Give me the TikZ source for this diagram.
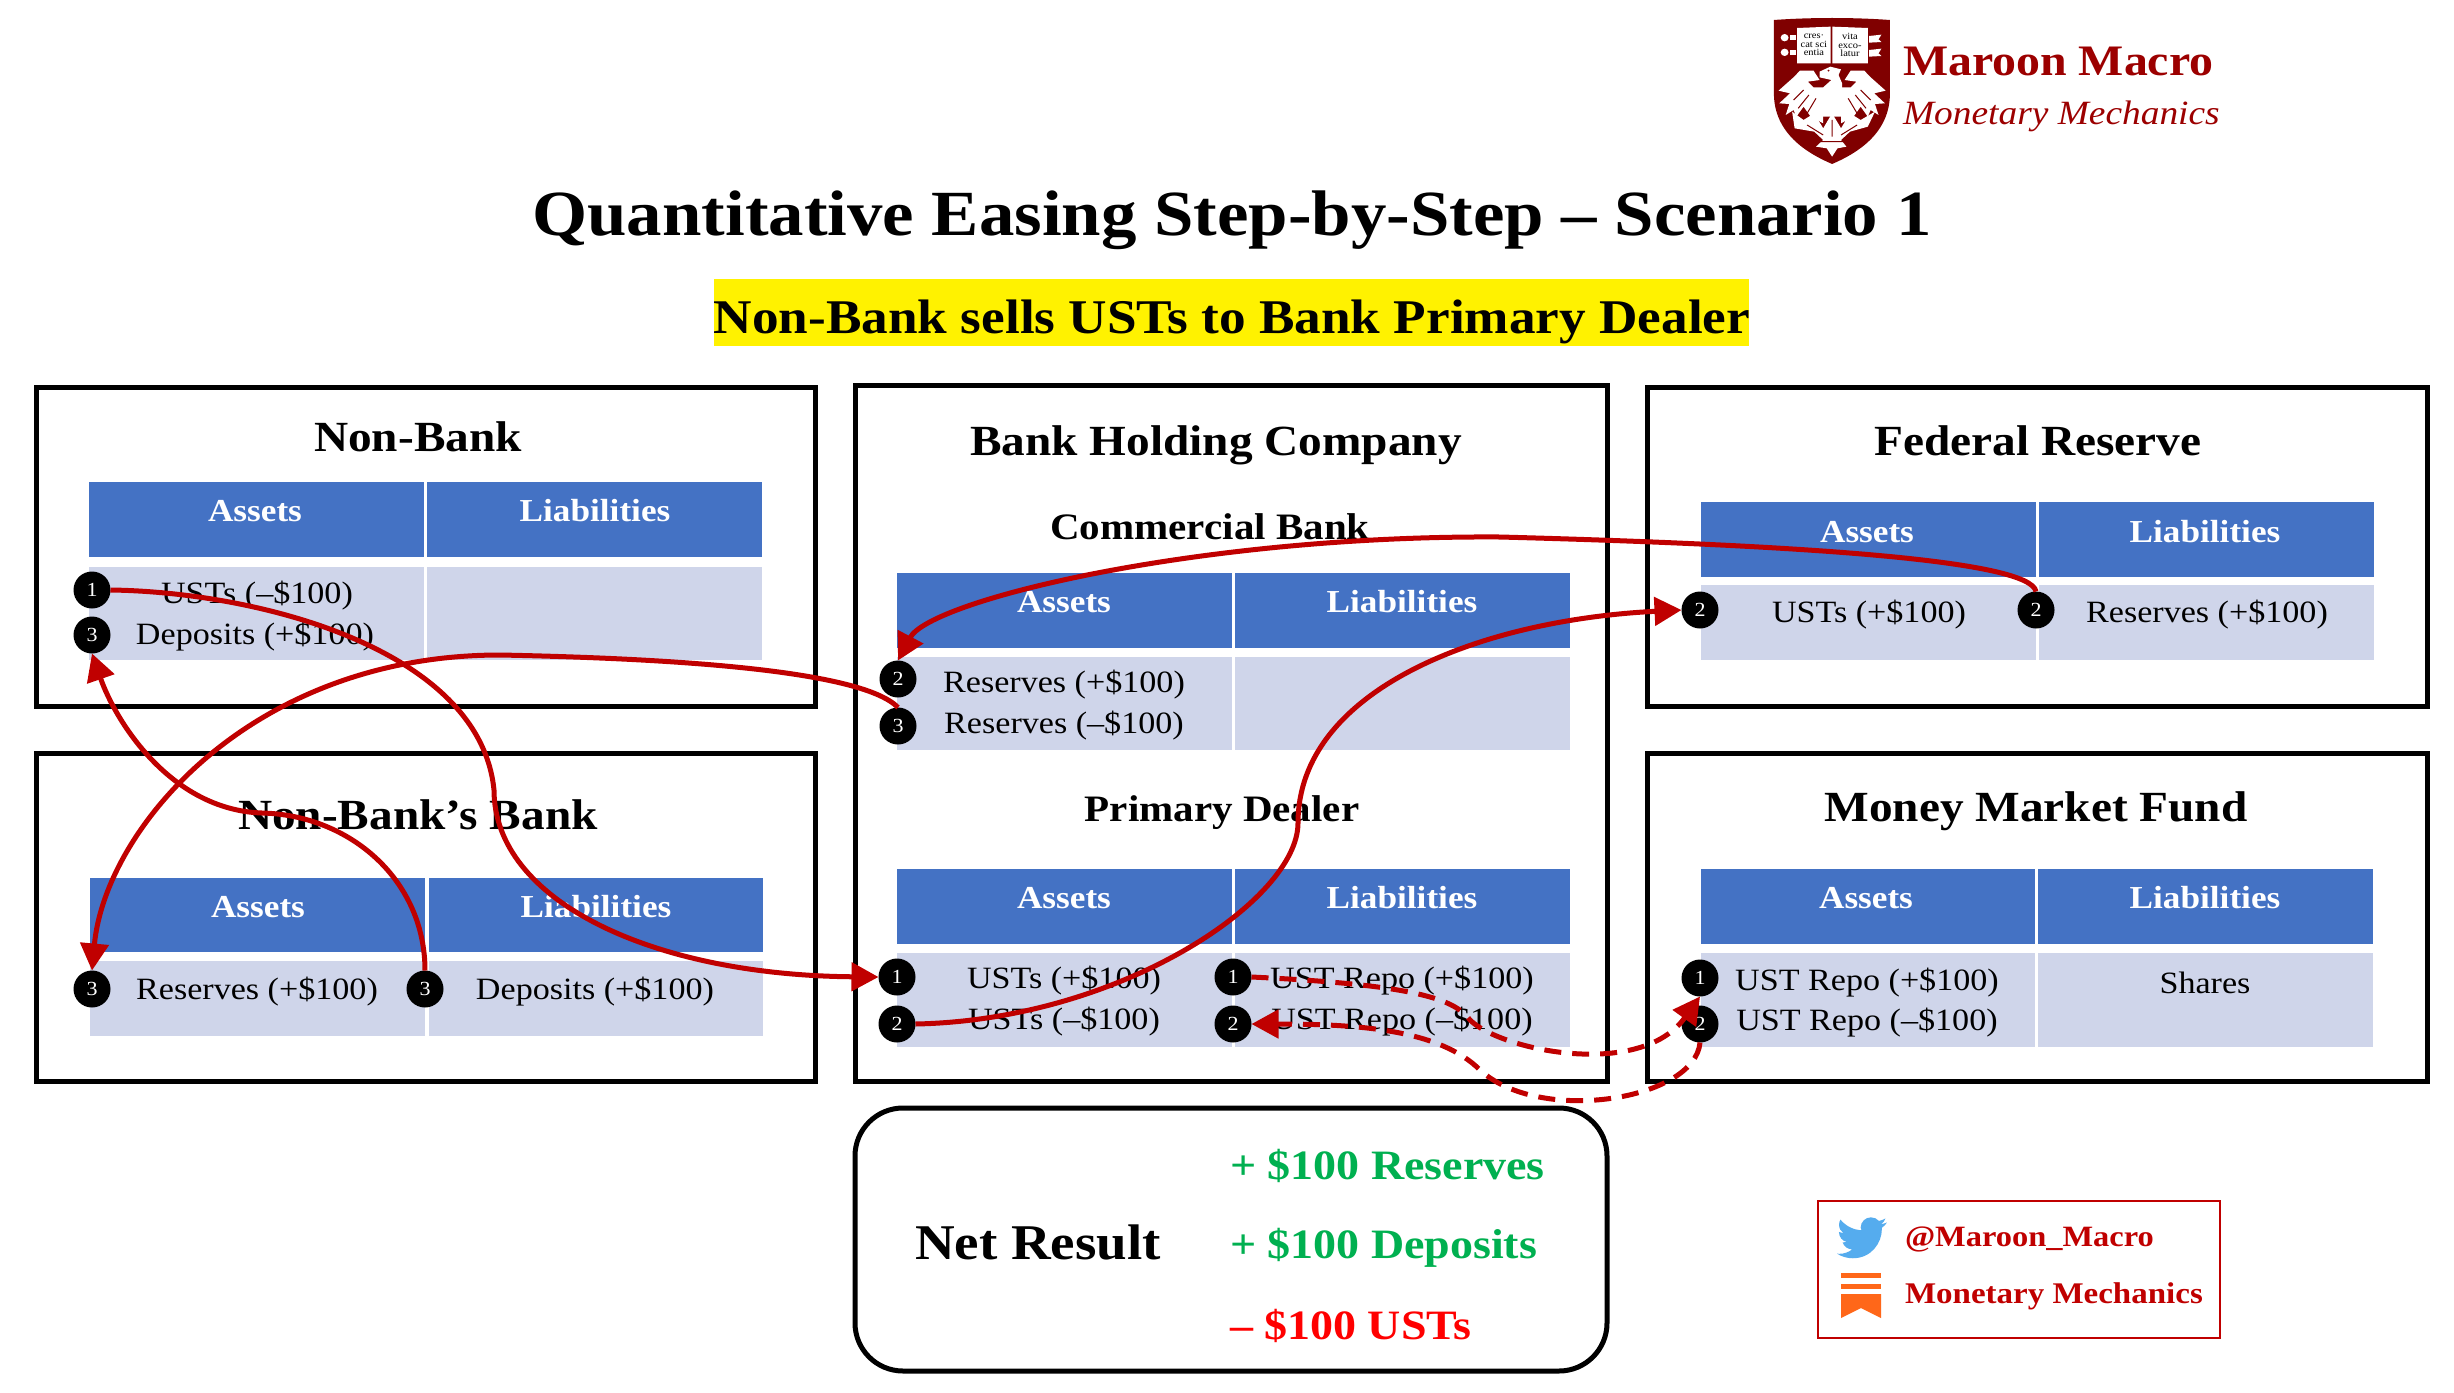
\documentclass[tikz,border=0pt]{standalone}
\usepackage{fontspec}
\setmainfont[FakeStretch=1.1]{Liberation Serif}
\usetikzlibrary{arrows.meta}
\definecolor{hdrblue}{HTML}{4472C4}
\definecolor{bodyblue}{HTML}{CFD5EA}
\definecolor{arrowred}{HTML}{C00000}
\definecolor{shieldred}{HTML}{800000}
\definecolor{logored}{HTML}{9C0000}
\definecolor{netgreen}{HTML}{00B050}
\definecolor{birdblue}{HTML}{55ACEE}
\definecolor{ssorange}{HTML}{FF6719}
\newcommand{\cellbox}[6]{%
  \pgfmathsetmacro\cellW{#4-#2}\pgfmathsetmacro\cellH{#5-#3}%
  \pgfmathsetmacro\cellX{(#2+#4)/2}\pgfmathsetmacro\cellY{(#3+#5)/2}%
  \node[#6,minimum width=\cellW pt,minimum height=\cellH pt] (#1) at (\cellX,\cellY) {};}
\newcommand{\fsz}[1]{\fontsize{#1}{#1}\selectfont}
\tikzset{
  every node/.style={inner sep=0pt,outer sep=0pt},
  framebox/.style={draw=black,line width=5pt,fill=white},
  hdrcell/.style={fill=hdrblue},
  bodycell/.style={fill=bodyblue},
  htxt/.style={text=white,font=\fsz{32}\bfseries},
  btxt/.style={text=black,font=\fsz{31}},
  ttl/.style={text=black,font=\fsz{43}\bfseries},
  sttl/.style={text=black,font=\fsz{37.3}\bfseries},
  bullet/.style={circle,fill=black,minimum size=37pt,text=white,font=\fsz{20}},
  flow/.style={draw=arrowred,line width=5pt,-{Triangle[length=27pt,width=28pt,fill=arrowred]}},
  flowd/.style={flow,dash pattern=on 17pt off 11pt},
}
\begin{document}
\begin{tikzpicture}[x=1pt,y=-1pt]
\useasboundingbox (0,0) rectangle (2454,1392);
\fill[white] (0,0) rectangle (2454,1392);

% title
\node[font=\fsz{64.4}\bfseries] (title) at (1232,220) {Quantitative Easing Step-by-Step – Scenario 1};
\cellbox{subbg}{714}{279}{1749}{346}{fill=yellow}
\node[font=\fsz{48.4}\bfseries] (subtitle) at (1232,322) {Non-Bank sells USTs to Bank Primary Dealer};

% frames
\cellbox{fnb}{36}{387}{815}{706}{framebox}
\cellbox{fnbb}{36}{753}{815}{1081}{framebox}
\cellbox{fbhc}{855}{385}{1607}{1081}{framebox}
\cellbox{ffed}{1647}{387}{2427}{706}{framebox}
\cellbox{fmmf}{1647}{753}{2427}{1081}{framebox}
\cellbox{fnet}{855}{1108}{1607}{1371}{framebox,rounded corners=48pt}

% titles
\node[ttl] (tnb) at (418,437) {Non-Bank};
\node[ttl] (tnbb) at (418,815) {Non-Bank’s Bank};
\node[ttl] (tbhc) at (1216,445) {Bank Holding Company};
\node[sttl] (tcb) at (1210,527) {Commercial Bank};
\node[sttl] (tpd) at (1222,813) {Primary Dealer};
\node[ttl] (tfed) at (2038,441) {Federal Reserve};
\node[ttl] (tmmf) at (2036,811) {Money Market Fund};

% tables: Non-Bank
\cellbox{h1a}{89}{482}{424}{557}{hdrcell}
\cellbox{h1l}{427}{482}{762}{557}{hdrcell}
\cellbox{b1a}{89}{567}{424}{660}{bodycell}
\cellbox{b1l}{427}{567}{762}{660}{bodycell}
% Non-Bank's Bank
\cellbox{h2a}{90}{878}{425}{952}{hdrcell}
\cellbox{h2l}{429}{878}{763}{952}{hdrcell}
\cellbox{b2a}{90}{961}{425}{1036}{bodycell}
\cellbox{b2l}{429}{961}{763}{1036}{bodycell}
% Commercial Bank
\cellbox{h3a}{897}{573}{1232}{648}{hdrcell}
\cellbox{h3l}{1235}{573}{1570}{648}{hdrcell}
\cellbox{b3a}{897}{657}{1232}{750}{bodycell}
\cellbox{b3l}{1235}{657}{1570}{750}{bodycell}
% Primary Dealer
\cellbox{h4a}{897}{869}{1232}{944}{hdrcell}
\cellbox{h4l}{1235}{869}{1570}{944}{hdrcell}
\cellbox{b4a}{897}{953}{1232}{1047}{bodycell}
\cellbox{b4l}{1235}{953}{1570}{1047}{bodycell}
% Federal Reserve
\cellbox{h5a}{1701}{502}{2036}{577}{hdrcell}
\cellbox{h5l}{2039}{502}{2374}{577}{hdrcell}
\cellbox{b5a}{1701}{585}{2036}{660}{bodycell}
\cellbox{b5l}{2039}{585}{2374}{660}{bodycell}
% Money Market Fund
\cellbox{h6a}{1701}{869}{2035}{944}{hdrcell}
\cellbox{h6l}{2038}{869}{2373}{944}{hdrcell}
\cellbox{b6a}{1701}{953}{2035}{1047}{bodycell}
\cellbox{b6l}{2038}{953}{2373}{1047}{bodycell}

% header text
\node[htxt] (l1a) at (255,511) {Assets};
\node[htxt] (l1l) at (595,511) {Liabilities};
\node[htxt] (l2a) at (258,907) {Assets};
\node[htxt] (l2l) at (596,907) {Liabilities};
\node[htxt] (l3a) at (1064,602) {Assets};
\node[htxt] (l3l) at (1402,602) {Liabilities};
\node[htxt] (l4a) at (1064,898) {Assets};
\node[htxt] (l4l) at (1402,898) {Liabilities};
\node[htxt] (l5a) at (1867,532) {Assets};
\node[htxt] (l5l) at (2205,532) {Liabilities};
\node[htxt] (l6a) at (1866,898) {Assets};
\node[htxt] (l6l) at (2205,898) {Liabilities};

% body text
\node[btxt] (e1a) at (257,596) {USTs (–\$100)};
\node[btxt] (e1b) at (255,637) {Deposits (+\$100)};
\node[btxt] (e2a) at (257,992) {Reserves (+\$100)};
\node[btxt] (e2b) at (595,992) {Deposits (+\$100)};
\node[btxt] (e3a) at (1064,685) {Reserves (+\$100)};
\node[btxt] (e3b) at (1064,726) {Reserves (–\$100)};
\node[btxt] (e4a) at (1064,981) {USTs (+\$100)};
\node[btxt] (e4b) at (1064,1022) {USTs (–\$100)};
\node[btxt] (e4c) at (1402,981) {UST Repo (+\$100)};
\node[btxt] (e4d) at (1402,1022) {UST Repo (–\$100)};
\node[btxt] (e5a) at (1869,615) {USTs (+\$100)};
\node[btxt] (e5b) at (2207,615) {Reserves (+\$100)};
\node[btxt] (e6a) at (1867,983) {UST Repo (+\$100)};
\node[btxt] (e6b) at (1867,1023) {UST Repo (–\$100)};
\node[btxt] (e6c) at (2205,983) {Shares};

% bullets
\node[bullet] (nb1) at (92,590) {1};
\node[bullet] (nb3) at (92,635) {3};
\node[bullet] (nbbr) at (92,989) {3};
\node[bullet] (nbbd) at (425,989) {3};
\node[bullet] (cb2) at (898,679) {2};
\node[bullet] (cb3) at (898,726) {3};
\node[bullet] (pa1) at (897,977) {1};
\node[bullet] (pa2) at (897,1024) {2};
\node[bullet] (pl1) at (1233,977) {1};
\node[bullet] (pl2) at (1233,1024) {2};
\node[bullet] (fa2) at (1700,610) {2};
\node[bullet] (fl2) at (2036,610) {2};
\node[bullet] (ma1) at (1700,978) {1};
\node[bullet] (ma2) at (1700,1024) {2};

% net result
\node[font=\fsz{50}\bfseries] (netlabel) at (1038,1242) {Net Result};
\node[anchor=west,text=netgreen,font=\fsz{41.8}\bfseries] (net1) at (1230,1166) {+ \$100 Reserves};
\node[anchor=west,text=netgreen,font=\fsz{41.8}\bfseries] (net2) at (1230,1248) {+ \$100 Deposits};
\node[anchor=west,text=red,font=\fsz{41.8}\bfseries] (net3) at (1230,1326) {– \$100 USTs};

% footer
\cellbox{footbox}{1818}{1201}{2220}{1338}{draw=arrowred,line width=2.5pt}
\node[anchor=west,text=arrowred,font=\fsz{29.5}\bfseries] (foot1) at (1905,1239) {@Maroon\_Macro};
\node[anchor=west,text=arrowred,font=\fsz{30}\bfseries] (foot2) at (1905,1296) {Monetary Mechanics};
\begin{scope}[shift={(1837,1213)},x=2.08pt,y=-2.08pt]
\fill[birdblue] (23.953,4.57) .. controls (23.1,5) and (22.1,5.2) .. (21.128,5.345)
 .. controls (22.1,4.8) and (22.9,3.8) .. (23.291,2.622)
 .. controls (22.34,3.177) and (21.286,3.581) .. (20.164,3.806)
 .. controls (19.2,2.7) and (17.9,2.08) .. (16.3,2.08)
 .. controls (13.6,2.08) and (11.38,4.3) .. (11.38,7)
 .. controls (11.38,7.4) and (11.5,7.9) .. (11.78,8.288)
 .. controls (7.69,8.095) and (4.067,6.13) .. (1.64,3.162)
 .. controls (1.22,3.9) and (.974,4.75) .. (.974,5.637)
 .. controls (.974,7.347) and (1.844,8.85) .. (3.162,9.733)
 .. controls (2.35,9.7) and (1.6,9.5) .. (.934,9.117) -- (.934,9.177)
 .. controls (.934,11.5) and (2.6,13.55) .. (4.88,14.004)
 .. controls (4.16,14.2) and (3.4,14.24) .. (2.668,14.089)
 .. controls (3.3,16.05) and (5.1,17.45) .. (7.272,17.506)
 .. controls (5.6,18.8) and (3.5,19.611) .. (1.17,19.611)
 .. controls (.78,19.611) and (.391,19.588) .. (0,19.544)
 .. controls (2.2,20.95) and (4.8,21.753) .. (7.557,21.753)
 .. controls (16.61,21.753) and (21.555,14.257) .. (21.555,7.768)
 .. controls (21.555,7.558) and (21.555,7.348) .. (21.54,7.138)
 .. controls (22.5,6.44) and (23.35,5.55) .. (24,4.59) -- cycle;
\end{scope}
\fill[ssorange] (1841,1273) rectangle (1881,1278);
\fill[ssorange] (1841,1284) rectangle (1881,1289);
\fill[ssorange] (1841,1294) -- (1881,1294) -- (1881,1318) -- (1861,1308) -- (1841,1318) -- cycle;

% logo text
\node[anchor=west,text=logored,font=\fsz{43.5}\bfseries] (brand1) at (1903,61) {Maroon Macro};
\node[anchor=west,text=logored,font=\fsz{34}\itshape] (brand2) at (1903,116) {Monetary Mechanics};

% shield
\begin{scope}[shift={(1700,0)},x=0.357pt,y=-0.3333pt]
\fill[shieldred] (207,60) .. controls (310,52) and (430,52) .. (532,60) -- (532,280)
  .. controls (532,400) and (440,460) .. (370,492)
  .. controls (300,460) and (207,400) .. (207,280) -- cycle;
\fill[white] (272,84) -- (366,80) -- (366,190) -- (272,190) -- cycle;
\fill[white] (371,80) -- (470,84) -- (470,190) -- (371,190) -- cycle;
\fill[white] (237,113) circle[x radius=11,y radius=11];
\fill[white] (237,157) circle[x radius=11,y radius=11];
\fill[white] (252,105) rectangle (268,120);
\fill[white] (252,150) rectangle (268,165);
\fill[white] (474,108) -- (508,104) -- (500,118) -- (508,126) -- (474,128) -- cycle;
\fill[white] (474,150) -- (508,146) -- (500,160) -- (508,168) -- (474,170) -- cycle;
\node[text=black,font=\fsz{9.5},align=center] (booka) at (319,135) {cres·\\[-1pt]cat sci\\[-1pt]entia};
\node[text=black,font=\fsz{9.5},align=center] (bookb) at (420,135) {vita\\[-1pt]exco-\\[-1pt]latur};
% wings
\foreach \m/\s in {0/1,740/-1}{
\begin{scope}[shift={(\m,0)},xscale=\s]
\fill[white] (318,212) -- (280,212) -- (262,232) -- (220,272) -- (252,280) -- (222,310) -- (250,312)
  -- (240,345) -- (262,330) -- (270,350) -- (290,320) -- (310,350) -- (345,370) -- (345,262)
  -- (318,262) -- (302,245) -- (335,240) -- cycle;
\draw[shieldred,line width=1pt] (262,300) -- (290,270) (275,325) -- (305,285) (300,340) -- (325,295);
\end{scope}}
% head and body
\fill[white] (335,215) -- (365,200) -- (395,208) -- (388,225) -- (398,250) -- (398,350) -- (345,350) -- (345,262) -- (368,240) -- (335,232) -- cycle;
\fill[shieldred] (360,212) circle[x radius=3,y radius=3];
% flames
\fill[white] (258,335) -- (290,360) -- (320,340) -- (345,385) -- (370,340) -- (395,385) -- (420,340) -- (450,360) -- (490,335)
  -- (470,380) -- (420,395) -- (395,420) -- (410,440) -- (385,445) -- (370,470) -- (355,445) -- (325,440) -- (345,420) -- (320,395) -- (265,385) -- cycle;
\draw[shieldred,line width=1pt] (300,375) -- (345,405) (440,375) -- (395,405) (335,425) -- (405,425) (370,360) -- (370,410);
\end{scope}

% flow arrows
\coordinate (m1) at (494,790);
\draw[flow] (nb1.east) .. controls (260,592) and (480,650) .. (m1) .. controls (494,900) and (650,975) .. (pa1.west);
\coordinate (m2) at (500,655);
\draw[flow] (cb3.north) .. controls (860,668) and (650,658) .. (m2) .. controls (250,655) and (105,830) .. (nbbr.north);
\coordinate (m3) at (262,813);
\draw[flow] (nbbd.north) .. controls (425,880) and (350,815) .. (m3) .. controls (170,810) and (115,720) .. (nb3.south);
\coordinate (m4) at (1500,537);
\draw[flow] (fl2.north) .. controls (2030,560) and (1800,545) .. (m4) .. controls (1200,535) and (930,600) .. (cb2.north);
\coordinate (m5) at (1298,823);
\draw[flow] (pa2.east) .. controls (1120,1020) and (1298,900) .. (m5) .. controls (1298,690) and (1480,620) .. (fa2.west);
\coordinate (m6) at (1470,1020);
\draw[flowd] (pl1.east) .. controls (1420,985) and (1455,1000) .. (m6) .. controls (1500,1050) and (1640,1080) .. (ma1.south);
\coordinate (m7) at (1480,1070);
\draw[flowd] (ma2.south) .. controls (1695,1100) and (1540,1125) .. (m7) .. controls (1440,1030) and (1360,1024) .. (pl2.east);
\end{tikzpicture}
\end{document}
